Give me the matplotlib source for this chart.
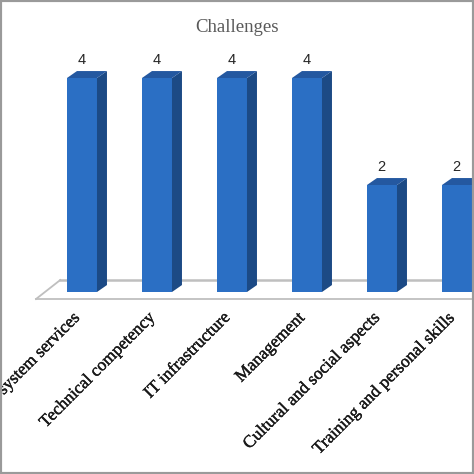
import matplotlib
matplotlib.use("Agg")
import matplotlib.pyplot as plt
import matplotlib.patheffects as pe
from matplotlib.patches import Polygon, Rectangle

# chart data
categories = ["Information system services", "Technical competency", "IT infrastructure",
              "Management", "Cultural and social aspects", "Training and personal skills"]
counts = [4, 4, 4, 4, 2, 2]
title = "Challenges"

# colours
FRONT = "#2b6fc4"
SIDE = "#1c4a85"
TOP = "#2458a0"
FLOOR = "#bfbfbf"

# geometry (data units: 1 category step, 1 count unit)
BAR_W = 0.4
DEPTH_X = 0.133
DEPTH_Y = 0.13

fig = plt.figure(figsize=(4.74, 4.74), dpi=100)
ax = fig.add_axes([0, 0, 1, 1])
ax.set_xlim(-1.0933, 5.2267)
ax.set_ylim(-3.402, 5.458)
ax.axis("off")

# floor of the 3d plot
ax.plot([-0.613, 5.3], [-0.131, -0.131], color=FLOOR, lw=1.3, zorder=1)
ax.plot([-0.613, -0.29], [-0.131, 0.224], color=FLOOR, lw=1.3, zorder=1)
ax.plot([-0.29, 5.3], [0.224, 0.224], color=FLOOR, lw=1.8, zorder=1)

thick = [pe.withStroke(linewidth=0.3, foreground="#1a1a1a")]

for i, (cat, val) in enumerate(zip(categories, counts)):
    x0 = i - BAR_W / 2
    x1 = i + BAR_W / 2
    ax.bar(i, val, width=BAR_W, color=FRONT, zorder=3)
    side = Polygon([(x1, 0), (x1 + DEPTH_X, DEPTH_Y), (x1 + DEPTH_X, val + DEPTH_Y), (x1, val)],
                   closed=True, facecolor=SIDE, edgecolor="none", zorder=3)
    top = Polygon([(x0, val), (x0 + DEPTH_X, val + DEPTH_Y), (x1 + DEPTH_X, val + DEPTH_Y), (x1, val)],
                  closed=True, facecolor=TOP, edgecolor="none", zorder=3)
    ax.add_patch(side)
    ax.add_patch(top)
    ax.text(i - 0.01, val + DEPTH_Y + 0.07, str(val), ha="center", va="bottom",
            fontsize=10.5, family="Liberation Sans", color="#262626", zorder=4)
    ax.text(i - 0.13, -0.33, cat, ha="right", va="top", rotation=45,
            rotation_mode="anchor", fontsize=12.5, family="Liberation Serif",
            color="#1a1a1a", zorder=4, path_effects=thick)

fig.text(0.5, 1 - 28 / 474, title, ha="center", va="center",
         fontsize=13.5, family="Liberation Serif", color="#595959")

# outer frame of the cropped chart
fig.patches.append(Rectangle((0, 0), 1, 1, transform=fig.transFigure,
                             fill=False, edgecolor="#9a9a9a", lw=3))

fig.savefig("out.png", dpi=100)
